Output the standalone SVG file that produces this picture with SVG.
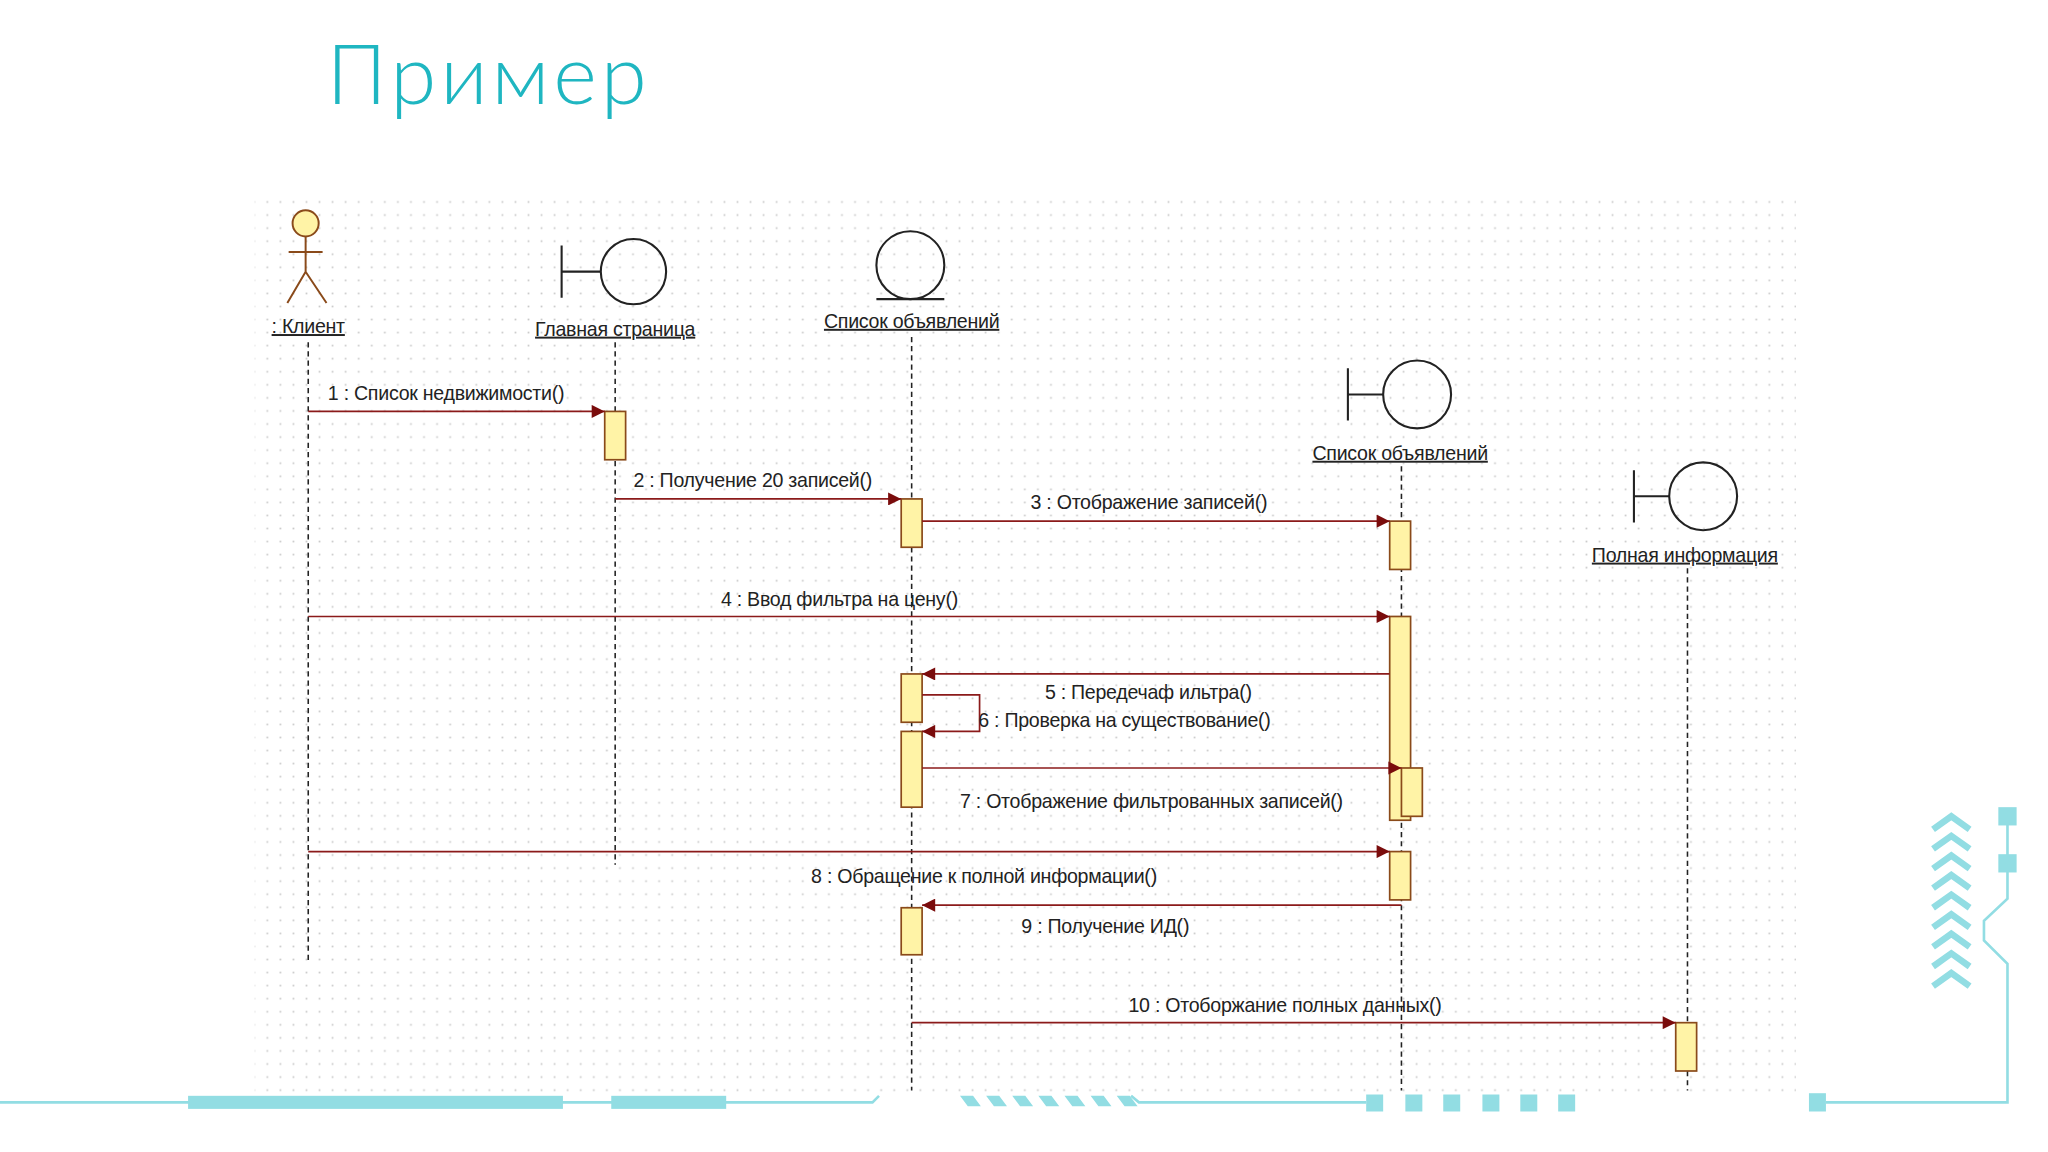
<svg xmlns="http://www.w3.org/2000/svg" width="2048" height="1152" viewBox="0 0 2048 1152">
<defs>
<pattern id="dots" width="10" height="10" patternUnits="userSpaceOnUse"><rect x="4" y="4" width="1.3" height="1.3" fill="#c8c8c8"/></pattern>
<marker id="ah" viewBox="0 0 10 10" refX="10" refY="5" markerWidth="13" markerHeight="10" markerUnits="userSpaceOnUse" orient="auto"><path d="M0,0 L10,5 L0,10 Z" fill="#7a0c0c"/></marker>
<style>
.t{font-family:"Liberation Sans",Arial,sans-serif;font-size:15px;fill:#222;letter-spacing:-0.2px}
.u{text-decoration:underline;text-anchor:middle}
.ll{stroke:#222;stroke-width:1.2;stroke-dasharray:4,3;fill:none}
.act{fill:#fff3a6;stroke:#8a4a1a;stroke-width:1.3}
.msg{stroke:#8b1a1a;stroke-width:1.3;fill:none;marker-end:url(#ah)}
.ico{stroke:#222;stroke-width:1.6;fill:none}
.deco{fill:#92dde3}
.dl{stroke:#92dde3;stroke-width:2;fill:none}
.chev{stroke:#92dde3;stroke-width:5;fill:none}
</style>
</defs>
<rect width="2048" height="1152" fill="#fff"/>
<g transform="scale(1.3061)">
<text x="250" y="80" font-family="Lato,'Noto Sans',sans-serif" font-weight="300" font-size="64" letter-spacing="3" fill="#1fb6c1">Пример</text>
<rect x="195" y="150" width="1180" height="688" fill="url(#dots)"/>

<g id="n-client">
<circle cx="234" cy="171" r="10" fill="#fff3a6" stroke="#8a4a1a" stroke-width="1.5"/>
<path d="M234,181 V208 M221,193 H247 M234,208 L220,232 M234,208 L250,232" stroke="#8a4a1a" stroke-width="1.5" fill="none"/>
<text class="t u" x="236" y="255">: Клиент</text>
<line class="ll" x1="236" y1="262" x2="236" y2="735"/>
</g>
<g id="n-main">
<path class="ico" d="M430,188 V228 M430,208 H460"/><circle class="ico" cx="485" cy="208" r="25"/>
<text class="t u" x="471" y="257">Главная страница</text>
<line class="ll" x1="471" y1="262" x2="471" y2="662"/>
</g>
<g id="n-list1">
<circle class="ico" cx="697" cy="203" r="26"/><line class="ico" x1="671" y1="229" x2="723" y2="229"/>
<text class="t u" x="698" y="251">Список объявлений</text>
<line class="ll" x1="698" y1="258" x2="698" y2="835"/>
</g>
<g id="n-list2">
<path class="ico" d="M1032,282 V322 M1032,302 H1059"/><circle class="ico" cx="1085" cy="302" r="26"/>
<text class="t u" x="1072" y="352">Список объявлений</text>
<line class="ll" x1="1073" y1="357" x2="1073" y2="835"/>
</g>
<g id="n-full">
<path class="ico" d="M1251,360 V400 M1251,380 H1278"/><circle class="ico" cx="1304" cy="380" r="26"/>
<text class="t u" x="1290" y="430">Полная информация</text>
<line class="ll" x1="1292" y1="435" x2="1292" y2="835"/>
</g>

<g id="activations">
<rect class="act" x="463" y="315" width="16" height="37"/>
<rect class="act" x="690" y="382" width="16" height="37"/>
<rect class="act" x="1064" y="399" width="16" height="37"/>
<rect class="act" x="1064" y="472" width="16" height="156"/>
<rect class="act" x="1073" y="588" width="16" height="37"/>
<rect class="act" x="690" y="516" width="16" height="37"/>
<rect class="act" x="690" y="560" width="16" height="58"/>
<rect class="act" x="1064" y="652" width="16" height="37"/>
<rect class="act" x="690" y="695" width="16" height="36"/>
<rect class="act" x="1283" y="783" width="16" height="37"/>
</g>

<g id="connectors">
<line class="msg" x1="236" y1="315" x2="463" y2="315"/>
<line class="msg" x1="471" y1="382" x2="690" y2="382"/>
<line class="msg" x1="706" y1="399" x2="1064" y2="399"/>
<line class="msg" x1="236" y1="472" x2="1064" y2="472"/>
<line class="msg" x1="1064" y1="516" x2="706" y2="516"/>
<polyline class="msg" points="706,532 750,532 750,560 706,560"/>
<line class="msg" x1="706" y1="588" x2="1073" y2="588"/>
<line class="msg" x1="236" y1="652" x2="1064" y2="652"/>
<line class="msg" x1="1073" y1="693" x2="706" y2="693"/>
<line class="msg" x1="698" y1="783" x2="1283" y2="783"/>
<text class="t" x="251" y="306">1 : Список  недвижимости()</text>
<text class="t" x="485" y="373">2 : Получение 20 записей()</text>
<text class="t" x="789" y="390">3 : Отображение записей()</text>
<text class="t" x="552" y="464">4 : Ввод фильтра на цену()</text>
<text class="t" x="800" y="535">5 : Передечаф ильтра()</text>
<text class="t" x="749" y="557">6 : Проверка на существование()</text>
<text class="t" x="735" y="619">7 : Отображение фильтрованных записей()</text>
<text class="t" x="621" y="676">8 : Обращение к полной информации()</text>
<text class="t" x="782" y="714">9 : Получение ИД()</text>
<text class="t" x="864" y="775">10 : Отоборжание полных данных()</text>
</g>

<g id="decor">
<path class="dl" d="M0,844 H668 L673,839 M866,839 L872,844 H1046 M1398,844 H1537 V738 L1519,720 V705 L1537,688 V625"/>
<rect class="deco" x="144" y="839" width="287" height="10"/>
<rect class="deco" x="468" y="839" width="88" height="10"/>
<path class="deco" d="M735,839h10l6,8h-10z M755,839h10l6,8h-10z M775,839h10l6,8h-10z M795,839h10l6,8h-10z M815,839h10l6,8h-10z M835,839h10l6,8h-10z M855,839h10l6,8h-10z"/>
<rect class="deco" x="1046" y="838" width="13" height="13"/>
<rect class="deco" x="1076" y="838" width="13" height="13"/>
<rect class="deco" x="1105" y="838" width="13" height="13"/>
<rect class="deco" x="1135" y="838" width="13" height="13"/>
<rect class="deco" x="1164" y="838" width="13" height="13"/>
<rect class="deco" x="1193" y="838" width="13" height="13"/>
<rect class="deco" x="1385" y="837" width="13" height="14"/>
<rect class="deco" x="1530" y="618" width="14" height="14"/>
<rect class="deco" x="1530" y="654" width="14" height="14"/>
<path class="chev" d="M1480,635 l14,-10 l14,10 M1480,650 l14,-10 l14,10 M1480,665 l14,-10 l14,10 M1480,680 l14,-10 l14,10 M1480,695 l14,-10 l14,10 M1480,710 l14,-10 l14,10 M1480,725 l14,-10 l14,10 M1480,740 l14,-10 l14,10 M1480,755 l14,-10 l14,10"/>
</g>
</g>
</svg>
